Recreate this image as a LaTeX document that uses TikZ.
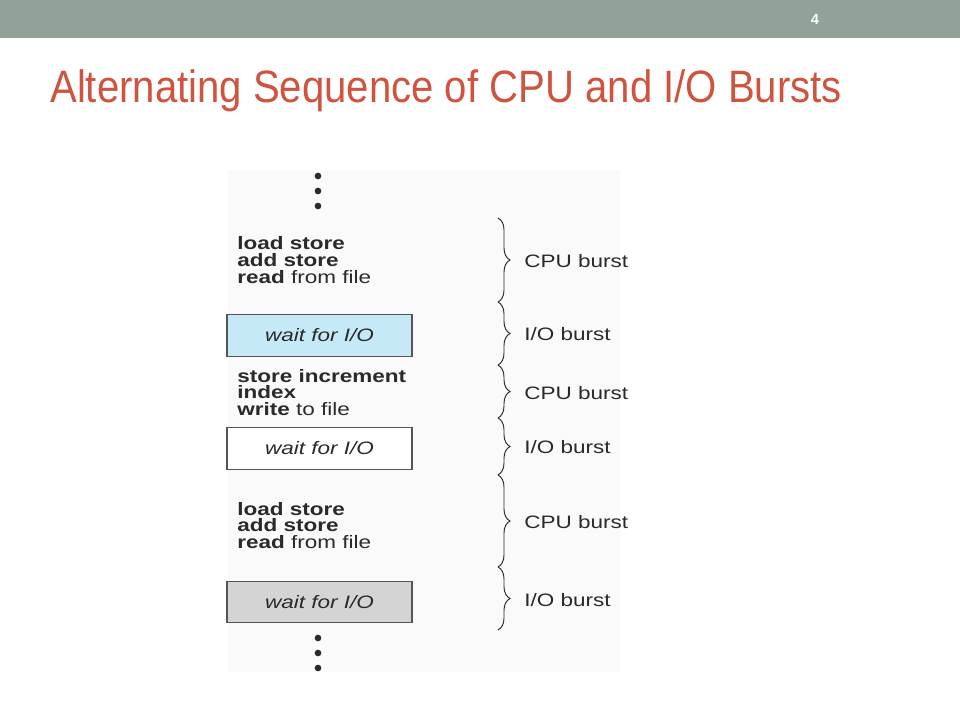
\documentclass[tikz,border=0pt]{standalone}
\usepackage{fontspec}
\setmainfont{Liberation Sans}
\newfontfamily\diagfont[FakeStretch=1.25]{Liberation Sans}
\newfontfamily\titlefont[FakeStretch=0.885]{Liberation Sans}
\usetikzlibrary{decorations.pathreplacing}
\definecolor{barcol}{HTML}{93A299}
\definecolor{titlecol}{HTML}{CF543F}
\definecolor{boxblue}{HTML}{C6E9F8}
\definecolor{boxgray}{HTML}{D4D4D4}
\definecolor{inkcol}{HTML}{2A2A2A}
\tikzset{
  codeline/.style={anchor=base west, inner sep=0pt, font=\diagfont\fontsize{13.5}{15}\selectfont, text=inkcol},
  waitbox/.style={draw=inkcol!80, line width=0.9pt, minimum width=138.75pt, minimum height=31pt, inner sep=0pt, font=\diagfont\fontsize{13.5}{15}\selectfont\itshape, text=inkcol},
  burstlabel/.style={anchor=west, inner sep=0pt, font=\diagfont\fontsize{13.5}{15}\selectfont, text=inkcol},
  bracestyle/.style={draw=inkcol, line width=0.7pt, decorate, decoration={brace, amplitude=9pt}},
  dotmark/.style={circle, fill=inkcol, inner sep=0pt, minimum size=5pt}
}
\begin{document}
\begin{tikzpicture}[x=0.75pt,y=-0.75pt]
\useasboundingbox (0,0) rectangle (960,720);
\fill[white] (0,0) rectangle (960,720);
% top bar
\fill[barcol] (0,0) rectangle (960,38);
\node[text=white, font=\bfseries\fontsize{11}{12}\selectfont] (pagenum) at (815,19) {4};
% title
\node[anchor=base west, inner sep=0pt, text=titlecol, font=\titlefont\fontsize{34}{38}\selectfont] (title) at (50,103) {Alternating Sequence of CPU and I/O Bursts};
% panel
\fill[black!2] (228,170) rectangle (620,672);
% dots
\node[dotmark] (d1) at (318,176) {};
\node[dotmark] (d2) at (318,191) {};
\node[dotmark] (d3) at (318,206) {};
\node[dotmark] (d4) at (318,638) {};
\node[dotmark] (d5) at (318,653) {};
\node[dotmark] (d6) at (318,668) {};
% block 1
\node[codeline] (a1) at (237,250) {\bfseries load store};
\node[codeline] (a2) at (237,267) {\bfseries add store};
\node[codeline] (a3) at (237,284) {{\bfseries read} from file};
\node[waitbox, fill=boxblue] (w1) at (319.5,335.5) {wait for I/O};
% block 2
\node[codeline] (b1) at (237,382) {\bfseries store increment};
\node[codeline] (b2) at (237,398.5) {\bfseries index};
\node[codeline] (b3) at (237,415) {{\bfseries write} to file};
\node[waitbox, fill=white] (w2) at (319.5,448.5) {wait for I/O};
% block 3
\node[codeline] (c1) at (237,515) {\bfseries load store};
\node[codeline] (c2) at (237,531.5) {\bfseries add store};
\node[codeline] (c3) at (237,548) {{\bfseries read} from file};
\node[waitbox, fill=boxgray] (w3) at (319.5,602) {wait for I/O};
% brace end points
\coordinate (p0) at (498,218);
\coordinate (p1) at (498,302);
\coordinate (p2) at (498,365);
\coordinate (p3) at (498,418);
\coordinate (p4) at (498,475);
\coordinate (p5) at (498,567);
\coordinate (p6) at (498,630);
\draw[bracestyle] (p0) -- (p1);
\draw[bracestyle] (p1) -- (p2);
\draw[bracestyle] (p2) -- (p3);
\draw[bracestyle] (p3) -- (p4);
\draw[bracestyle] (p4) -- (p5);
\draw[bracestyle] (p5) -- (p6);
% labels
\node[burstlabel] (l1) at (524,261) {CPU burst};
\node[burstlabel] (l2) at (524,334) {I/O burst};
\node[burstlabel] (l3) at (524,393) {CPU burst};
\node[burstlabel] (l4) at (524,447) {I/O burst};
\node[burstlabel] (l5) at (524,522) {CPU burst};
\node[burstlabel] (l6) at (524,600) {I/O burst};
\end{tikzpicture}
\end{document}
